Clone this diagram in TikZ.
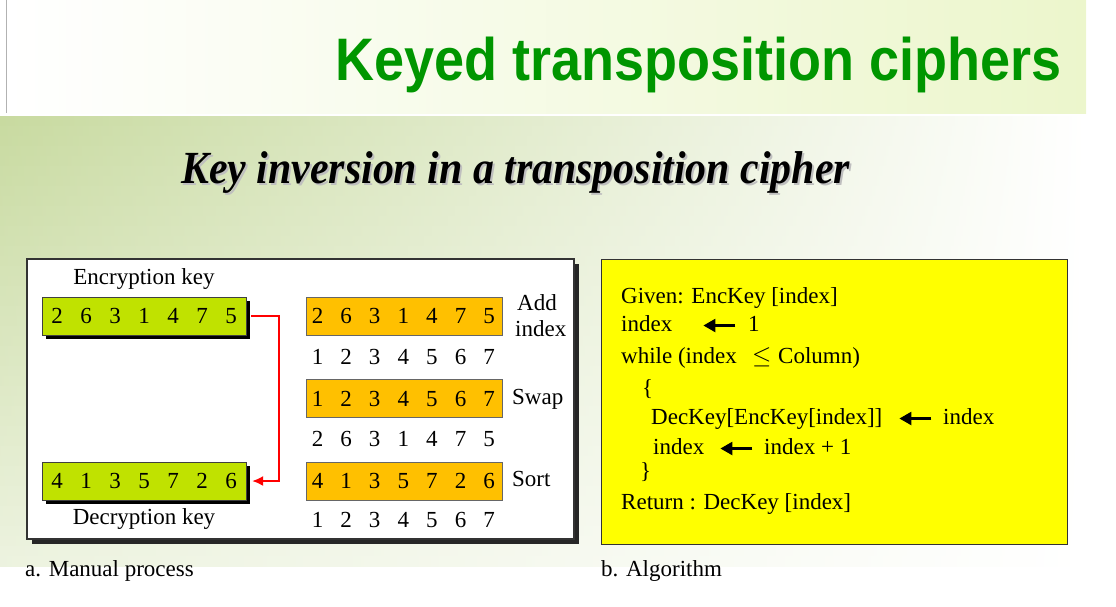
\documentclass[tikz,border=0pt]{standalone}
\usepackage{fontspec}
\setmainfont{Liberation Serif}
\newfontfamily\headfont{Liberation Sans}
\usetikzlibrary{positioning, arrows.meta, shadows}
\definecolor{keygreen}{RGB}{192,226,0}
\definecolor{steporange}{RGB}{255,192,0}
\definecolor{algoyellow}{RGB}{255,255,0}
\definecolor{headgreen}{RGB}{0,150,0}
\definecolor{bandgreen}{RGB}{200,218,160}
\definecolor{toplime}{RGB}{236,246,204}
\newcommand{\keyarrow}{\tikz[baseline=-6pt]\draw[line width=2.4pt, -{Triangle[length=12pt, width=13pt]}] (32pt,0pt) -- (0pt,0pt);}
\tikzset{
    every node/.style={font=\fontsize{23}{26}\selectfont, inner sep=0pt},
    panel/.style={draw=black!80, line width=1.5pt, fill=white,
        drop shadow={shadow xshift=5pt, shadow yshift=-5pt, fill=black!85, opacity=1}},
    keybox/.style={draw=black!75, fill=keygreen, minimum width=204pt, minimum height=38pt,
        drop shadow={shadow xshift=4pt, shadow yshift=-4pt, fill=black, opacity=1}},
    stepbox/.style={draw=black!60, fill=steporange, minimum width=196pt, minimum height=38pt},
    digit/.style={text height=15.5pt, text depth=0pt},
    word/.style={anchor=west, text height=16pt, text depth=5pt},
    invert/.style={red, line width=1.6pt, -{Latex[length=11pt, width=10pt]}},
}

\begin{document}
\begin{tikzpicture}[x=1pt, y=-1pt]
    \useasboundingbox (0,0) rectangle (1116,606);

    % slide background
    \fill[left color=white, right color=toplime] (6,0) rectangle (1086,113);
    \draw[black!30] (6,0) -- (6,113);
    \foreach \k in {0,...,44} {
        \pgfmathtruncatemacro{\p}{100-1.5*\k}
        \fill[left color=bandgreen!\p!white, right color=white]
            (0,{116+10*\k}) rectangle (1086,{126.5+10*\k});
    }

    % headings
    \node[anchor=base east, text=headgreen, font=\headfont\bfseries\fontsize{60}{60}\selectfont]
        (title) at (1062,80) {\scalebox{0.9}[1]{Keyed transposition ciphers}};
    \node[anchor=base west, text=black!25, font=\bfseries\itshape\fontsize{46}{46}\selectfont]
        (subshadow) at (183,185) {\scalebox{0.91}[1]{Key inversion in a transposition cipher}};
    \node[anchor=base west, font=\bfseries\itshape\fontsize{46}{46}\selectfont]
        (subtitle) at (181,183) {\scalebox{0.91}[1]{Key inversion in a transposition cipher}};

    % a. manual process
    \node[panel, minimum width=547pt, minimum height=280pt] (manual) at (300.5,399) {};
    \node[keybox] (enc) at (144,316) {};
    \node[keybox] (dec) at (144,481) {};
    \node[word, anchor=center] (enclabel) at (144,279) {Encryption key};
    \node[word, anchor=center] (declabel) at (144,519) {Decryption key};
    \foreach \d [count=\i] in {2,6,3,1,4,7,5}
        \node[digit] (enc-\i) at ({57+29*(\i-1)},316) {\d};
    \foreach \d [count=\i] in {4,1,3,5,7,2,6}
        \node[digit] (dec-\i) at ({57+29*(\i-1)},481) {\d};

    \node[stepbox] (add) at (404,316) {};
    \node[stepbox] (swap) at (404,398.5) {};
    \node[stepbox] (sort) at (404,481) {};
    \foreach \row/\y/\vals in {add/316/{2,6,3,1,4,7,5}, pos/357/{1,2,3,4,5,6,7},
                               swap/398.5/{1,2,3,4,5,6,7}, back/439/{2,6,3,1,4,7,5},
                               sort/481/{4,1,3,5,7,2,6}, final/520/{1,2,3,4,5,6,7}}
        \foreach \d [count=\i] in \vals
            \node[digit] (\row-\i) at ({317.5+28.6*(\i-1)},\y) {\d};
    \node[word] (addlabel) at (517,305) {Add};
    \node[word] (indexlabel) at (515,331) {index};
    \node[word] (swaplabel) at (512,398.5) {Swap};
    \node[word] (sortlabel) at (512,481) {Sort};

    \draw[invert] ([xshift=5pt]enc.east) -- ++(28,0) |- ([xshift=6pt]dec.east);

    % b. algorithm
    \node[draw=black!80, line width=1pt, fill=algoyellow, minimum width=466pt, minimum height=285pt]
        (algo) at (834.5,401.5) {};
    \node[word] (given) at (621,298) {Given: EncKey [index]};
    \node[word] (init) at (621,326) {index};
    \node[word] (initarrow) at (702,326) {\keyarrow};
    \node[word] (initval) at (748,326) {1};
    \node[word] (loop) at (621,358) {while (index};
    \node[word] (loopleq) at (752,358) {$\leq$};
    \node[word] (loopend) at (778,358) {Column)};
    \node[word] (open) at (642,390) {\{};
    \node[word] (set) at (651,419) {DecKey[EncKey[index]]};
    \node[word] (setarrow) at (898,419) {\keyarrow};
    \node[word] (setval) at (943,419) {index};
    \node[word] (step) at (653,449) {index};
    \node[word] (steparrow) at (719,449) {\keyarrow};
    \node[word] (stepval) at (764,449) {index + 1};
    \node[word] (close) at (640,473) {\}};
    \node[word] (return) at (621,504) {Return : DecKey [index]};

    % captions
    \node[word] (capa) at (25,571) {a. Manual process};
    \node[word] (capb) at (601,571) {b. Algorithm};
\end{tikzpicture}
\end{document}
